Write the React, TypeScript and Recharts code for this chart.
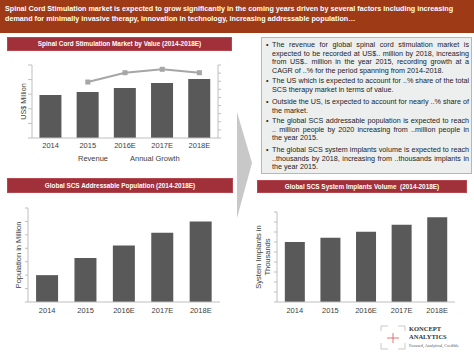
import React from 'react';
import { ComposedChart, BarChart, Bar, Line, XAxis, YAxis, Label } from 'recharts';

const years = ['2014', '2015', '2016E', '2017E', '2018E'];
const revenue = [2.95, 3.15, 3.42, 3.77, 4.04];
const annualGrowth: (number | null)[] = [null, 6.9, 8.05, 8.47, 8.05];
const population = [2.0, 3.28, 4.2, 5.15, 6.0];
const implants = [6.0, 6.43, 7.03, 7.73, 8.47];

const headerLines = [
  'Spinal Cord Stimulation market is expected to grow significantly in the coming years driven by several factors including increasing',
  'demand for minimally invasive therapy, innovation in technology, increasing addressable population…',
];
const chart1Title = 'Spinal Cord Stimulation Market by Value (2014-2018E)';
const chart2Title = 'Global SCS Addressable Population (2014-2018E)';
const chart3Title = 'Global SCS System Implants Volume  (2014-2018E)';
const legendLabels = ['Revenue', 'Annual Growth'];
const bullets = [
  'The revenue for global spinal cord stimulation market is expected to be recorded at US$.. million by 2018, increasing from US$.. million in the year 2015, recording growth at a CAGR of ..% for the period spanning from 2014-2018.',
  'The US which is expected to account for ..% share of the total SCS therapy market in terms of value.',
  'Outside the US, is expected to account for nearly ..% share of the market.',
  'The global SCS addressable population is expected to reach .. million people by 2020 increasing from ..million people in the year 2015.',
  'The global SCS system implants volume is expected to reach ..thousands by 2018, increasing from ..thousands implants in the year 2015.',
];

const data1 = years.map((y, i) => ({ year: y, revenue: revenue[i], growth: annualGrowth[i] }));
const data2 = years.map((y, i) => ({ year: y, population: population[i] }));
const data3 = years.map((y, i) => ({ year: y, implants: implants[i] }));

const FONT = '"Liberation Sans", Arial, sans-serif';
const AXIS = '#BFBFBF';
const BAR = '#595959';
const LINE = '#A6A6A6';
const TITLE_BG = '#A0303A';

const range = (n: number) => Array.from({ length: n + 1 }, (_, i) => i);
const blank = () => '';

const vLabel = (lines: string[], xs: number[], fs: number) => (props: any) => {
  const vb = props.viewBox || {};
  const cy = (vb.y || 0) + (vb.height || 0) / 2;
  return (
    <g>
      {lines.map((l, i) => (
        <text key={i} x={xs[i]} y={cy} transform={`rotate(-90 ${xs[i]} ${cy})`} textAnchor="middle"
          dominantBaseline="central" fontSize={fs} fill="#404040" fontFamily={FONT}>{l}</text>
      ))}
    </g>
  );
};

const SquareDot = (props: any) => {
  const { cx, cy, index } = props;
  if (cx == null || cy == null || props.value == null) return <g key={`d${index}`} />;
  return <rect key={`d${index}`} x={cx - 2.5} y={cy - 2.5} width={5} height={5} fill={LINE} />;
};

const TitleBar = ({ x, y, w, h, text }: any) => (
  <div style={{ position: 'absolute', left: x, top: y, width: w, height: h, background: TITLE_BG,
    color: '#fff', fontFamily: FONT, fontWeight: 'bold', fontSize: 6.4, lineHeight: `${h}px`,
    textAlign: 'center', whiteSpace: 'pre', boxShadow: 'inset 0 0 0 1px #B5484F' }}>{text}</div>
);

const tickStyle = { fontSize: 7.5, fill: '#404040', fontFamily: FONT };

export default function App() {
  return (
    <div style={{ position: 'absolute', left: 0, top: 0, width: 474, height: 355, background: '#fff', overflow: 'hidden', fontFamily: FONT }}>
      {/* header */}
      <div style={{ position: 'absolute', left: 0, top: 0, width: 474, height: 33, background: '#9E3A16' }}>
        {headerLines.map((l, i) => (
          <div key={i} style={{ position: 'absolute', left: 5, top: 4 + i * 10, color: '#fff', fontWeight: 'bold',
            fontSize: 7.2, lineHeight: '10px', whiteSpace: 'nowrap' }}>{l}</div>
        ))}
      </div>

      {/* chevron */}
      <svg style={{ position: 'absolute', left: 0, top: 0 }} width={474} height={355}>
        <polygon points="237,112 252,163 237,218" fill="#C8C8C8" />
      </svg>

      {/* chart 1 */}
      <TitleBar x={7} y={37} w={225} h={14} text={chart1Title} />
      <div style={{ position: 'absolute', left: 0, top: 55 }}>
        <ComposedChart width={245} height={100} data={data1} margin={{ top: 10, right: 0, left: 0, bottom: 3 }} barCategoryGap="20%">
          <XAxis dataKey="year" height={14} tickLine={false} tickSize={5} tickMargin={0} tick={tickStyle}
            axisLine={{ stroke: AXIS }} interval={0} />
          <YAxis yAxisId="left" width={32} domain={[0, 5]} ticks={range(5)} tickFormatter={blank} tickSize={4}
            axisLine={{ stroke: AXIS }} tickLine={{ stroke: AXIS }}>
            <Label content={vLabel(['US$ Million'], [23], 7.2)} />
          </YAxis>
          <YAxis yAxisId="right" orientation="right" width={27} domain={[0, 9]} ticks={range(9)} tickFormatter={blank}
            tickSize={3} axisLine={{ stroke: AXIS }} tickLine={{ stroke: AXIS }} />
          <Bar yAxisId="left" dataKey="revenue" fill={BAR} isAnimationActive={false} />
          <Line yAxisId="right" dataKey="growth" stroke={LINE} strokeWidth={2} dot={<SquareDot />}
            isAnimationActive={false} />
        </ComposedChart>
      </div>
      <div style={{ position: 'absolute', left: 78, top: 154, fontSize: 7.5, color: '#404040', whiteSpace: 'nowrap' }}>{legendLabels[0]}</div>
      <div style={{ position: 'absolute', left: 130, top: 154, fontSize: 7.5, color: '#404040', whiteSpace: 'nowrap' }}>{legendLabels[1]}</div>

      {/* text box */}
      <div style={{ position: 'absolute', left: 261, top: 37, width: 211, height: 137, background: '#EDEFEF',
        border: '1px solid #92C6CA', boxSizing: 'border-box' }}>
        {bullets.map((b, i) => (
          <div key={i} style={{ position: 'absolute', left: 10, width: 197, top: [3, 39, 60, 79, 108][i],
            fontSize: 7.2, lineHeight: '8.7px', color: '#222', textAlign: 'justify' }}>
            <span style={{ position: 'absolute', left: -6, top: 0 }}>•</span>{b}
          </div>
        ))}
      </div>

      {/* chart 2 */}
      <TitleBar x={7} y={178} w={226} h={15} text={chart2Title} />
      <div style={{ position: 'absolute', left: 0, top: 198 }}>
        <BarChart width={245} height={128} data={data2} margin={{ top: 10, right: 25, left: 0, bottom: 10 }} barCategoryGap="21%">
          <XAxis dataKey="year" height={14} tickLine={false} tickSize={6} tickMargin={0} tick={tickStyle}
            axisLine={{ stroke: AXIS }} interval={0} />
          <YAxis width={28} domain={[0, 7]} ticks={range(7)} tickFormatter={blank} tickSize={3}
            axisLine={{ stroke: AXIS }} tickLine={{ stroke: AXIS }}>
            <Label content={vLabel(['Population in Million'], [18], 7.5)} />
          </YAxis>
          <Bar dataKey="population" fill={BAR} isAnimationActive={false} />
        </BarChart>
      </div>

      {/* chart 3 */}
      <TitleBar x={257} y={180} w={210} h={13} text={chart3Title} />
      <div style={{ position: 'absolute', left: 245, top: 202 }}>
        <BarChart width={229} height={124} data={data3} margin={{ top: 10, right: 19, left: 0, bottom: 10 }} barCategoryGap="22%">
          <XAxis dataKey="year" height={14} tickLine={false} tickSize={6} tickMargin={0} tick={tickStyle}
            axisLine={{ stroke: AXIS }} interval={0} />
          <YAxis width={32} domain={[0, 9]} ticks={range(9)} tickFormatter={blank} tickSize={3}
            axisLine={{ stroke: AXIS }} tickLine={{ stroke: AXIS }}>
            <Label content={vLabel(['System Implants in', 'Thousands'], [13, 22], 7.5)} />
          </YAxis>
          <Bar dataKey="implants" fill={BAR} isAnimationActive={false} />
        </BarChart>
      </div>

      {/* logo */}
      <svg style={{ position: 'absolute', left: 378, top: 323 }} width={30} height={30}>
        <g stroke="#BBBBBB" strokeWidth={0.8} fill="none">
          <polyline points="3,8 3,3 10,3" />
          <polyline points="20,3 27,3 27,8" />
          <polyline points="3,20 3,26 10,26" />
          <polyline points="20,26 27,26 27,20" />
        </g>
        <g stroke="#D9534F" strokeWidth={0.8}>
          <line x1={9} y1={15} x2={21} y2={15} />
          <line x1={15} y1={10} x2={15} y2={20} />
        </g>
      </svg>
      <div style={{ position: 'absolute', left: 409, top: 325, fontFamily: '"Liberation Serif", "DejaVu Serif", serif',
        fontWeight: 'bold', fontSize: 6.5, lineHeight: '8px', color: '#333' }}>
        <div>KONCEPT</div>
        <div>ANALYTICS</div>
      </div>
      <div style={{ position: 'absolute', left: 409, top: 343, fontFamily: '"Liberation Serif", serif', fontSize: 4.2,
        color: '#555', whiteSpace: 'nowrap' }}>Focused, Analytical, Credible</div>
    </div>
  );
}
